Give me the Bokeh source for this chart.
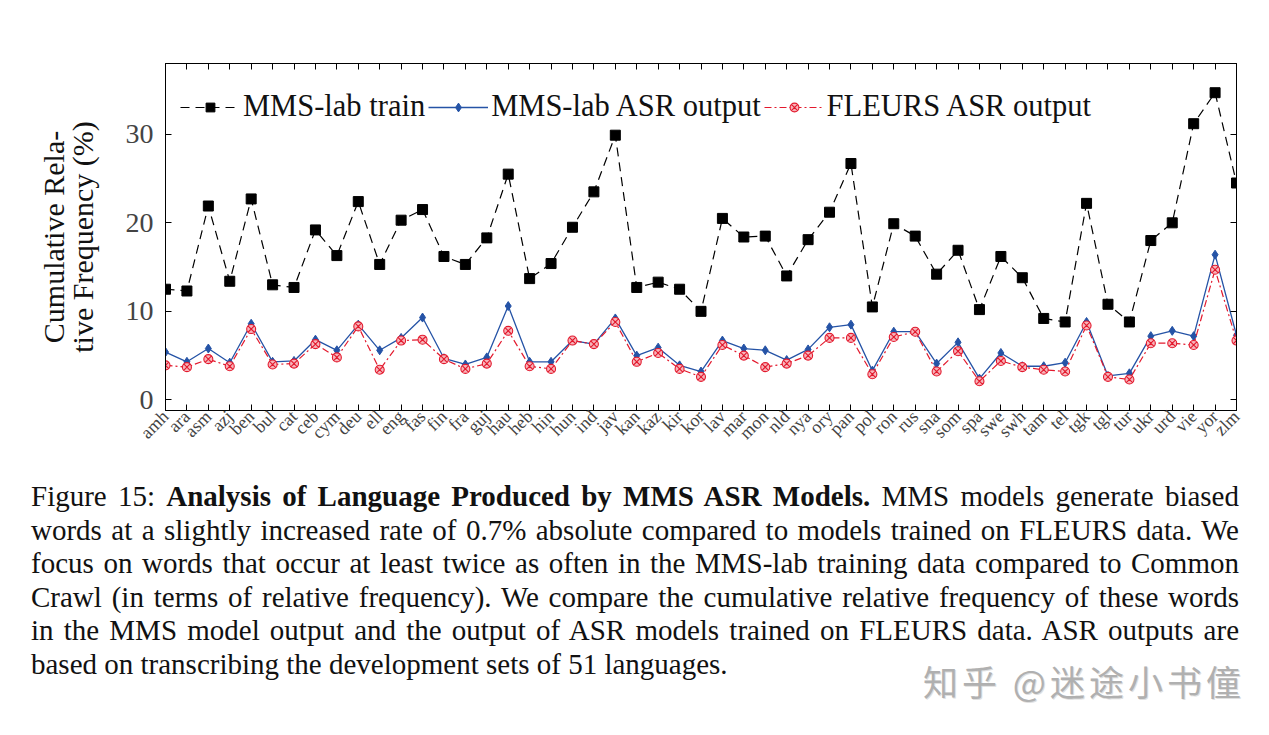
from bokeh.plotting import figure
from bokeh.models import Range1d, FixedTicker, LinearAxis, Legend, LegendItem, Div
from bokeh.layouts import column
from bokeh.embed import file_html
from bokeh.resources import INLINE

languages = ["amh", "ara", "asm", "azj", "ben", "bul", "cat", "ceb", "cym", "deu",
             "ell", "eng", "fas", "fin", "fra", "guj", "hau", "heb", "hin", "hun",
             "ind", "jav", "kan", "kaz", "kir", "kor", "lav", "mar", "mon", "nld",
             "nya", "ory", "pan", "pol", "ron", "rus", "sna", "som", "spa", "swe",
             "swh", "tam", "tel", "tgk", "tgl", "tur", "ukr", "urd", "vie", "yor", "zlm"]

mms_train = [12.5, 12.3, 21.9, 13.4, 22.7, 13.0, 12.7, 19.2, 16.3, 22.4,
             15.3, 20.3, 21.5, 16.2, 15.3, 18.3, 25.5, 13.7, 15.4, 19.5,
             23.5, 29.9, 12.7, 13.3, 12.5, 10.0, 20.5, 18.4, 18.5, 14.0,
             18.1, 21.2, 26.7, 10.5, 19.9, 18.5, 14.2, 16.9, 10.2, 16.2,
             13.8, 9.2, 8.8, 22.2, 10.8, 8.8, 18.0, 20.0, 31.2, 34.7, 24.5]

mms_asr = [5.4, 4.3, 5.8, 4.2, 8.6, 4.3, 4.4, 6.8, 5.6, 8.5,
           5.6, 7.0, 9.3, 4.7, 4.0, 4.8, 10.6, 4.3, 4.3, 6.7,
           6.3, 9.2, 5.0, 5.9, 3.9, 3.2, 6.7, 5.8, 5.6, 4.5,
           5.7, 8.2, 8.5, 3.3, 7.7, 7.7, 4.1, 6.5, 2.4, 5.3,
           3.8, 3.8, 4.2, 8.8, 2.7, 3.0, 7.2, 7.8, 7.2, 16.4, 7.3]

fleurs_asr = [3.9, 3.7, 4.6, 3.8, 8.0, 4.0, 4.1, 6.3, 4.8, 8.3,
              3.4, 6.7, 6.8, 4.6, 3.5, 4.1, 7.8, 3.8, 3.5, 6.7,
              6.3, 8.8, 4.3, 5.3, 3.5, 2.6, 6.2, 5.0, 3.7, 4.1,
              5.0, 7.0, 7.0, 2.9, 7.1, 7.7, 3.2, 5.5, 2.1, 4.4,
              3.7, 3.4, 3.2, 8.4, 2.6, 2.3, 6.4, 6.4, 6.2, 14.7, 6.7]

y_ticks = [0, 10, 20, 30]
series_labels = ["MMS-lab train", "MMS-lab ASR output", "FLEURS ASR output"]

SERIF = "Liberation Serif"
xs = list(range(len(languages)))

p = figure(frame_width=1071, frame_height=347, output_backend="svg", toolbar_location=None,
           x_range=Range1d(0, len(languages) - 1), y_range=Range1d(-1.2, 38),
           min_border_left=165, min_border_top=63, min_border_right=17, min_border_bottom=55,
           background_fill_color="white", border_fill_color="white")
p.outline_line_color = "black"
p.outline_line_width = 1
p.xgrid.visible = False
p.ygrid.visible = False

# bottom axis
xa = p.xaxis[0]
xa.ticker = FixedTicker(ticks=xs)
xa.major_label_overrides = {i: l for i, l in enumerate(languages)}
xa.major_label_orientation = 0.785
xa.major_label_text_font = SERIF
xa.major_label_text_font_size = "18px"
xa.major_label_standoff = 3
xa.major_tick_in = 6
xa.major_tick_out = 0
xa.minor_tick_line_color = None
xa.axis_line_color = "black"

# left axis
ya = p.yaxis[0]
ya.ticker = FixedTicker(ticks=y_ticks)
ya.major_label_text_font = SERIF
ya.major_label_text_font_size = "28px"
ya.major_label_standoff = 12
ya.major_tick_in = 6
ya.major_tick_out = 0
ya.minor_tick_line_color = None
ya.axis_label = "Cumulative Rela-\ntive Frequency (%)"
ya.axis_label_text_font = SERIF
ya.axis_label_text_font_size = "30px"
ya.axis_label_text_font_style = "normal"
ya.axis_label_text_line_height = 0.85
ya.axis_label_standoff = 24
ya.axis_label_text_color = "#111111"
ya.axis_line_color = "black"

top = LinearAxis(ticker=FixedTicker(ticks=xs), major_label_text_font_size="8px",
                 major_label_text_color=None,
                 major_tick_in=6, major_tick_out=0, minor_tick_line_color=None)
right = LinearAxis(ticker=FixedTicker(ticks=y_ticks), major_label_text_font_size="8px",
                   major_label_text_color=None,
                   major_tick_in=6, major_tick_out=0, minor_tick_line_color=None)
p.add_layout(top, "above")
p.add_layout(right, "right")

l1 = p.line(xs, mms_train, line_color="black", line_width=1.2, line_dash="9 6")
s1 = p.scatter(xs, mms_train, marker="square", size=10, fill_color="black", line_color="black")

blue = "#2553a6"
l2 = p.line(xs, mms_asr, line_color=blue, line_width=1.3)
s2 = p.scatter(xs, mms_asr, marker="diamond", size=9, fill_color=blue, line_color=blue)

red = "#e3192d"
l3 = p.line(xs, fleurs_asr, line_color=red, line_width=1.2, line_dash="7 3 2 3")
s3 = p.scatter(xs, fleurs_asr, marker="circle_x", size=9, fill_color="#f7b3b9", line_color=red,
               line_width=1.1)

legend = Legend(items=[LegendItem(label=series_labels[0], renderers=[l1, s1]),
                       LegendItem(label=series_labels[1], renderers=[l2, s2]),
                       LegendItem(label=series_labels[2], renderers=[l3, s3])],
                orientation="horizontal", location=(15, 286),
                background_fill_alpha=0, border_line_alpha=0,
                label_text_font=SERIF, label_text_font_size="30.5px",
                label_text_color="#111111",
                glyph_width=60, glyph_height=22, label_standoff=3, spacing=3,
                padding=0, margin=0)
p.add_layout(legend, "center")

lines = [
    'Figure 15: <b>Analysis of Language Produced by MMS ASR Models.</b> MMS models generate biased',
    'words at a slightly increased rate of 0.7% absolute compared to models trained on FLEURS data. We',
    'focus on words that occur at least twice as often in the MMS-lab training data compared to Common',
    'Crawl (in terms of relative frequency). We compare the cumulative relative frequency of these words',
    'in the MMS model output and the output of ASR models trained on FLEURS data. ASR outputs are',
    'based on transcribing the development sets of 51 languages.',
]
html_lines = []
for i, ln in enumerate(lines):
    last = i == len(lines) - 1
    align = "left" if last else "justify"
    html_lines.append(
        f'<div style="text-align:justify;text-align-last:{align};white-space:normal;">{ln}</div>')
caption_html = (
    '<div style="position:relative;width:1240px;height:240px;">'
    '<div style="position:absolute;left:26px;top:10px;width:1208px;'
    f'font-family:\'{SERIF}\';font-size:29px;line-height:33.5px;color:#111;">'
    + "".join(html_lines) +
    '</div>'
    '<div style="position:absolute;left:918px;top:186px;white-space:nowrap;font-family:\'Noto Sans CJK SC\';'
    'font-size:35px;letter-spacing:4px;color:#b0b0b0;text-shadow:1px 1px 0 #e0e0e0;">知乎 @迷途小书僮</div>'
    '</div>'
)
div = Div(text=caption_html, width=1245, height=250)

layout = column(p, div, spacing=0)
open("out.html", "w").write(file_html(layout, INLINE))
